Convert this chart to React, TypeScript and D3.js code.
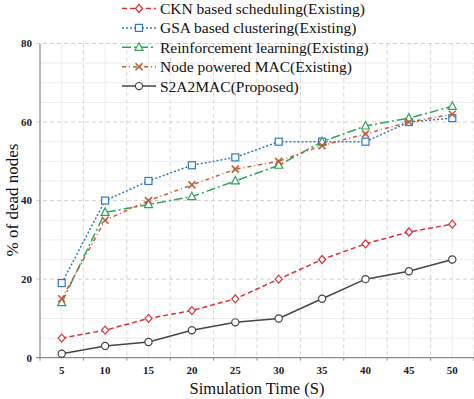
import React from "react";
import * as d3 from "d3";

const times = ["5", "10", "15", "20", "25", "30", "35", "40", "45", "50"];
const cknValues = [5, 7, 10, 12, 15, 20, 25, 29, 32, 34];
const gsaValues = [19, 40, 45, 49, 51, 55, 55, 55, 60, 61];
const rlValues = [14, 37, 39, 41, 45, 49, 55, 59, 61, 64];
const nodeMacValues = [15, 35, 40, 44, 48, 50, 54, 57, 60, 62];
const s2a2Values = [1, 3, 4, 7, 9, 10, 15, 20, 22, 25];
const yTicks = [0, 20, 40, 60, 80];

const series = [
  { name: "CKN based scheduling(Existing)", values: cknValues, color: "#d9333a", dash: "5,3", marker: "diamond" },
  { name: "GSA based clustering(Existing)", values: gsaValues, color: "#2f78c4", dash: "2,2", marker: "square" },
  { name: "Reinforcement learning(Existing)", values: rlValues, color: "#2fa35c", dash: "9,3,2,3", marker: "triangle" },
  { name: "Node powered MAC(Existing)", values: nodeMacValues, color: "#c0603a", dash: "4,3,1,3", marker: "cross" },
  { name: "S2A2MAC(Proposed)", values: s2a2Values, color: "#454545", dash: "", marker: "circle" },
];

const W = 474;
const H = 399;
const margin = { top: 43.5, right: 0, bottom: 41.3, left: 40 };
const serif = "'Liberation Serif', 'Times New Roman', serif";

const Marker = ({ type, x, y, color }: { type: string; x: number; y: number; color: string }) => {
  const common = { fill: "white", stroke: color, strokeWidth: 1.2 };
  if (type === "square") return <rect x={x - 3.5} y={y - 3.5} width={7} height={7} {...common} />;
  if (type === "circle") return <circle cx={x} cy={y} r={3.6} {...common} />;
  if (type === "diamond")
    return <path d={`M${x},${y - 4}L${x + 3.5},${y}L${x},${y + 4}L${x - 3.5},${y}Z`} {...common} />;
  if (type === "triangle")
    return <path d={`M${x},${y - 4.5}L${x + 4},${y + 3}L${x - 4},${y + 3}Z`} {...common} />;
  return (
    <path
      d={`M${x - 3.5},${y - 3.5}L${x + 3.5},${y + 3.5}M${x - 3.5},${y + 3.5}L${x + 3.5},${y - 3.5}`}
      fill="none"
      stroke={color}
      strokeWidth={1.6}
    />
  );
};

const App = () => {
  const x = d3
    .scaleBand()
    .domain(times)
    .range([margin.left, W - margin.right]);
  const y = d3
    .scaleLinear()
    .domain([0, 80])
    .range([H - margin.bottom, margin.top]);
  const cx = (t: string) => (x(t) as number) + x.bandwidth() / 2;

  const line = d3
    .line<number>()
    .x((_, i) => cx(times[i]))
    .y((d) => y(d));

  const minorY = d3.range(5, 80, 5).filter((v) => v % 20 !== 0);
  const bounds = times.map((t) => x(t) as number).concat([W - margin.right]);

  return (
    <svg width={W} height={H} style={{ position: "absolute", left: 0, top: 0, background: "white" }}>
      {/* grid */}
      <g>
        {minorY.map((v) => (
          <line key={"my" + v} x1={margin.left} x2={W} y1={y(v)} y2={y(v)} stroke="#ececec" strokeWidth={1} />
        ))}
        {times.map((t) => (
          <line key={"mx" + t} x1={cx(t)} x2={cx(t)} y1={y(80)} y2={y(0)} stroke="#ececec" strokeWidth={1} />
        ))}
        {bounds.slice(1).map((b, i) => (
          <line key={"bx" + i} x1={b} x2={b} y1={y(80)} y2={y(0)} stroke="#d4d4d4" strokeDasharray="4,3" />
        ))}
        {yTicks.slice(1).map((v) => (
          <line key={"gy" + v} x1={margin.left - 4} x2={W} y1={y(v)} y2={y(v)} stroke="#cfcfcf" strokeDasharray="4,3" />
        ))}
      </g>

      {/* axes */}
      <line x1={margin.left} x2={margin.left} y1={y(80)} y2={y(0)} stroke="#8a8a8a" strokeWidth={1.2} />
      <line x1={margin.left - 4} x2={W} y1={y(0)} y2={y(0)} stroke="#8a8a8a" strokeWidth={1.2} />
      {bounds.map((b, i) => (
        <line key={"tk" + i} x1={b} x2={b} y1={y(0)} y2={y(0) + 3} stroke="#8a8a8a" />
      ))}
      {yTicks.map((v) => (
        <text
          key={"yl" + v}
          x={margin.left - 8}
          y={y(v)}
          dy="0.35em"
          textAnchor="end"
          fontFamily={serif}
          fontSize={11}
          fontWeight="bold"
          fill="#222"
        >
          {v}
        </text>
      ))}
      {times.map((t) => (
        <text
          key={"xl" + t}
          x={cx(t)}
          y={y(0) + 16}
          textAnchor="middle"
          fontFamily={serif}
          fontSize={11}
          fontWeight="bold"
          fill="#222"
        >
          {t}
        </text>
      ))}
      <text x={257} y={394} textAnchor="middle" fontFamily={serif} fontSize={16.5} fill="#111">
        Simulation Time (S)
      </text>
      <text
        transform="translate(18,200) rotate(-90)"
        textAnchor="middle"
        fontFamily={serif}
        fontSize={17}
        fill="#111"
      >
        % of dead nodes
      </text>

      {/* series */}
      {series.map((s) => (
        <g key={s.name}>
          <path d={line(s.values) || ""} fill="none" stroke={s.color} strokeWidth={1.5} strokeDasharray={s.dash} />
          {s.values.map((v, i) => (
            <Marker key={i} type={s.marker} x={cx(times[i])} y={y(v)} color={s.color} />
          ))}
        </g>
      ))}

      {/* legend */}
      {series.map((s, i) => {
        const ly = 8.5 + i * 19.4;
        return (
          <g key={"lg" + i}>
            <line x1={122} x2={156} y1={ly} y2={ly} stroke={s.color} strokeWidth={1.5} strokeDasharray={s.dash} />
            <Marker type={s.marker} x={139} y={ly} color={s.color} />
            <text x={160} y={ly} dy="0.35em" fontFamily={serif} fontSize={15.5} fill="#111">
              {s.name}
            </text>
          </g>
        );
      })}
    </svg>
  );
};

export default App;
